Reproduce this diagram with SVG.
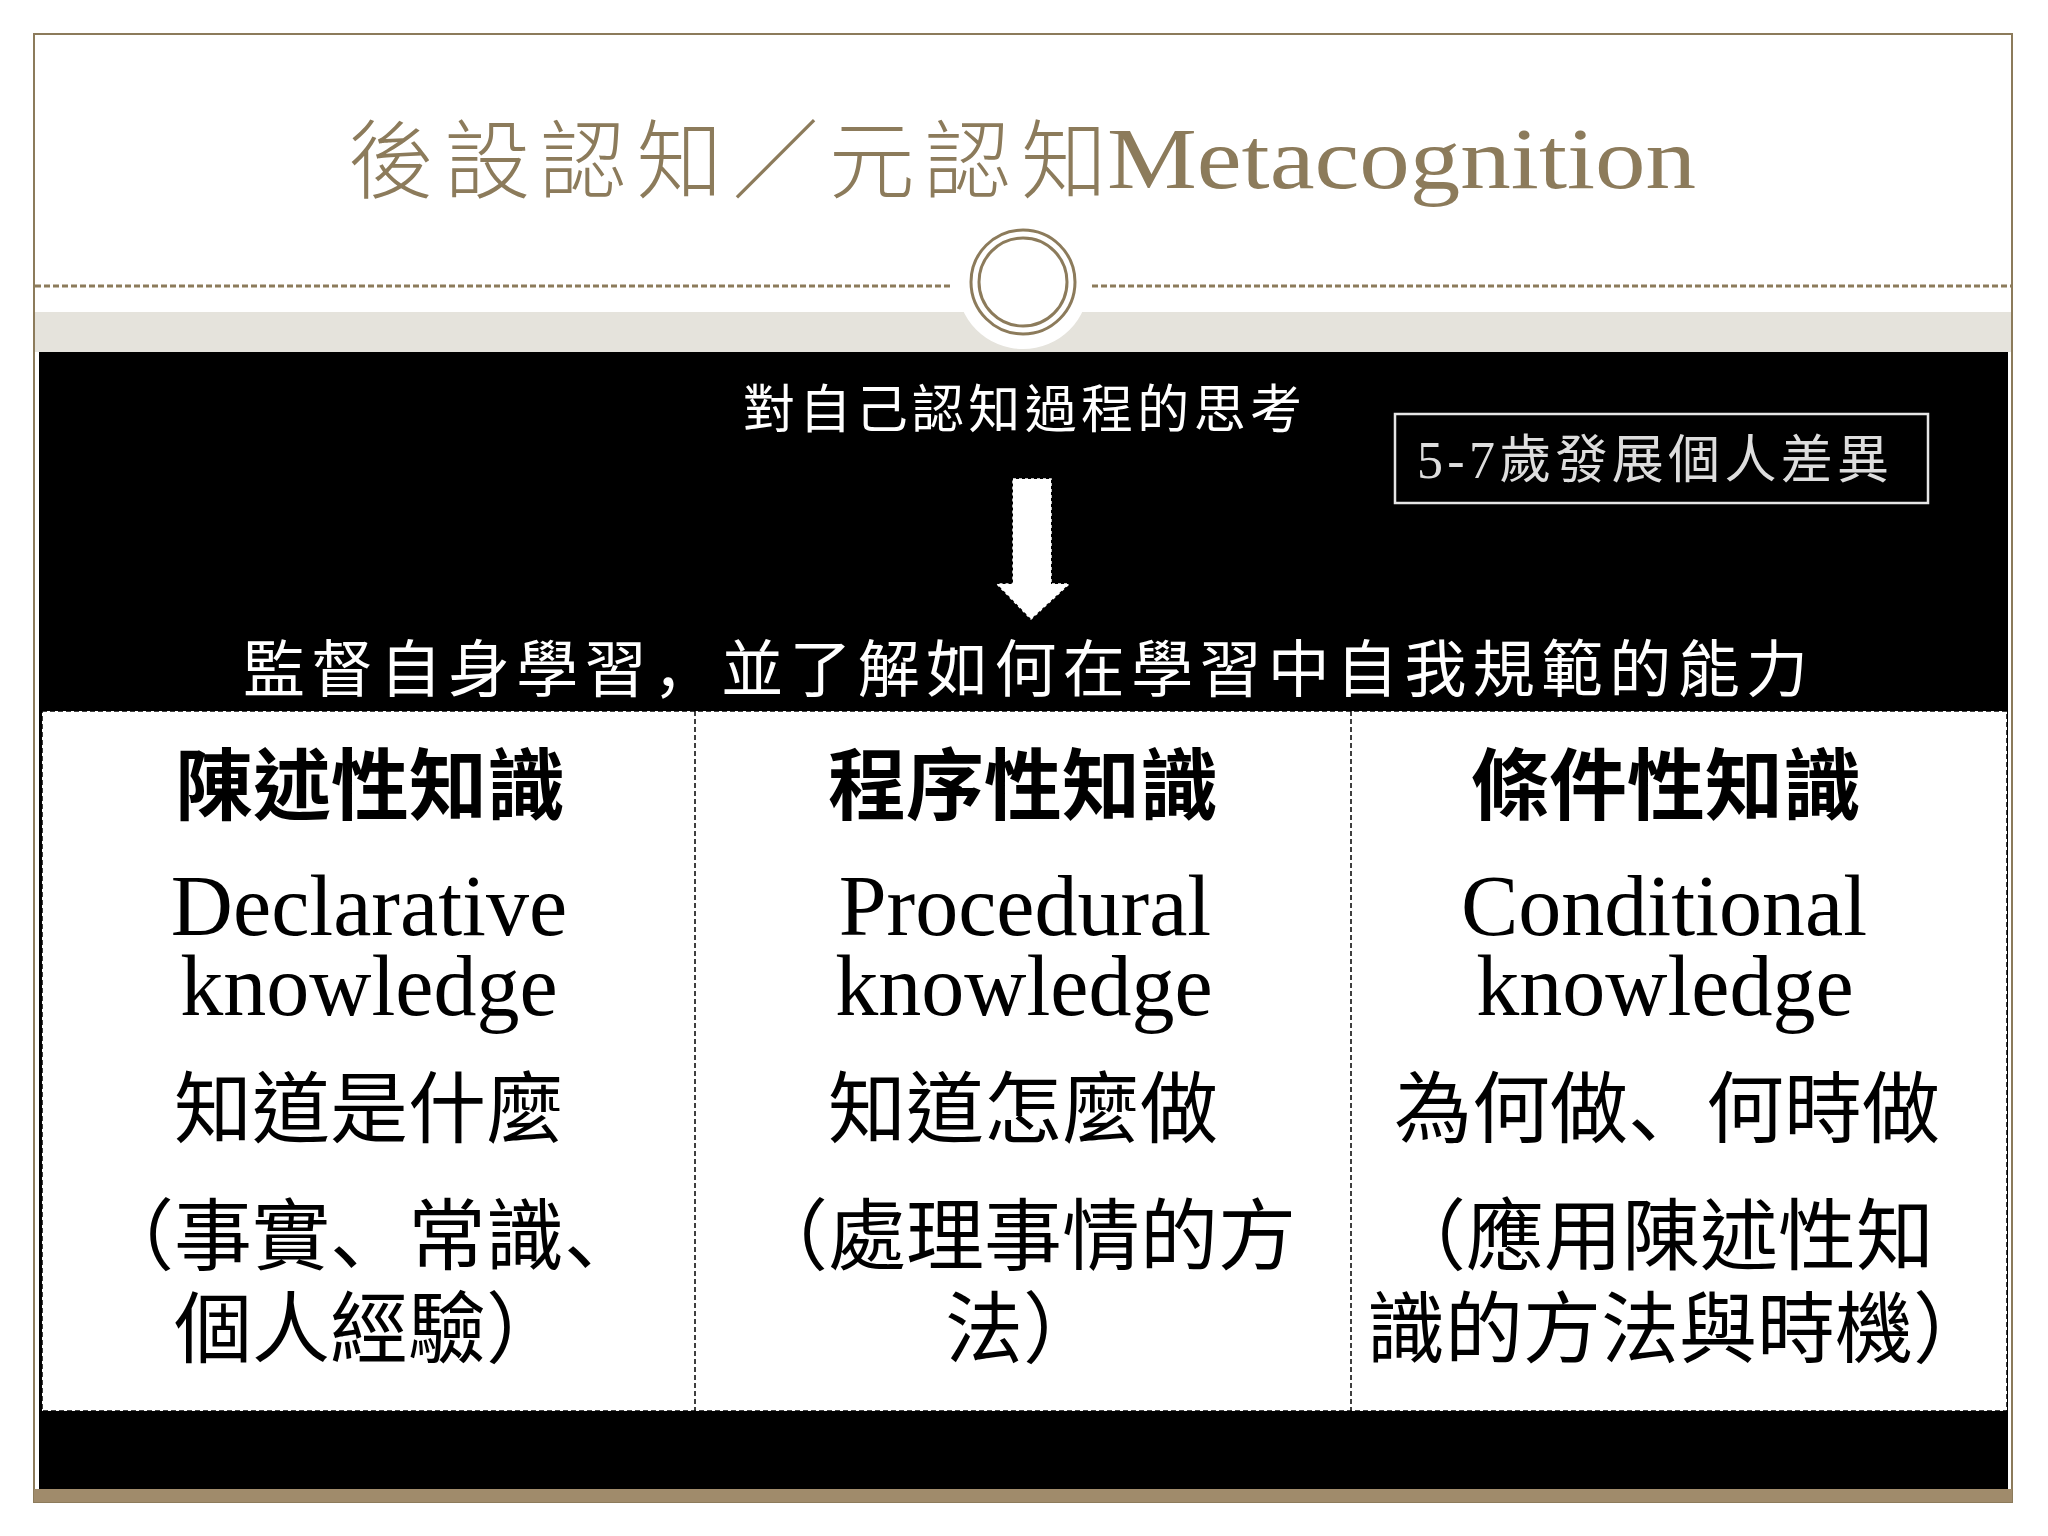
<svg xmlns="http://www.w3.org/2000/svg" width="2048" height="1536" viewBox="0 0 2048 1536">
  <defs>
    <style>
      .tan { fill: #8C7B5B; }
      .cjk { font-family: "Noto Sans CJK TC", "Noto Sans CJK SC", sans-serif; }
      .serif { font-family: "Liberation Serif", "Noto Sans CJK TC", serif; }
      .head { font-family: "Noto Sans CJK TC", sans-serif; font-weight: bold; font-size: 78px; fill: #000; text-anchor: middle; }
      .body { font-family: "Noto Sans CJK TC", sans-serif; font-size: 78px; fill: #000; text-anchor: middle; }
      .latin { font-family: "Liberation Serif", serif; font-size: 86px; fill: #000; text-anchor: middle; }
      .punct { font-family: "Noto Sans CJK SC", sans-serif; }
      .cellline { stroke: #000; stroke-width: 1.5; stroke-dasharray: 5 3; fill: none; }
    </style>
  </defs>

  <rect x="0" y="0" width="2048" height="1536" fill="#FFFFFF"/>

  <!-- frame -->
  <g id="frame">
    <rect x="34" y="34" width="1978" height="1468" fill="#FFFFFF" stroke="#8C7B5B" stroke-width="2"/>
    <rect x="35" y="312" width="1976" height="40" fill="#E5E3DC"/>
    <circle cx="1023" cy="283" r="66" fill="#FFFFFF"/>
    <line x1="35" y1="286" x2="953" y2="286" stroke="#8C7B5B" stroke-width="3" stroke-dasharray="6 3"/>
    <line x1="1092" y1="286" x2="2011" y2="286" stroke="#8C7B5B" stroke-width="3" stroke-dasharray="6 3"/>
    <circle cx="1023" cy="282" r="52" fill="none" stroke="#8C7B5B" stroke-width="3"/>
    <circle cx="1023" cy="282" r="44" fill="none" stroke="#8C7B5B" stroke-width="3"/>
    <rect x="39" y="352" width="1969" height="1137" fill="#000000"/>
    <rect x="34" y="1489" width="1978" height="13" fill="#A08B6B"/>
  </g>

  <!-- title -->
  <g id="title">
    <text x="348" y="192" class="cjk tan" font-size="86" font-weight="300" textLength="759" lengthAdjust="spacing">後設認知／元認知</text>
    <text x="1107" y="188" class="tan" font-family="Liberation Serif, serif" font-size="86" textLength="589" lengthAdjust="spacingAndGlyphs">Metacognition</text>
  </g>

  <!-- top statement -->
  <g id="node-thinking">
    <text x="743" y="428" class="cjk" font-size="52" fill="#FFFFFF" textLength="559" lengthAdjust="spacing">對自己認知過程的思考</text>
  </g>

  <g id="node-age">
    <rect x="1395" y="414" width="533" height="89" fill="none" stroke="#E6E6E6" stroke-width="2.5"/>
    <text x="1417" y="478" class="serif" font-size="52" fill="#DDDDDD" textLength="472" lengthAdjust="spacing">5-7歲發展個人差異</text>
  </g>

  <g id="node-ability">
    <text x="243" y="692" class="cjk" font-size="62" fill="#FFFFFF" textLength="1565" lengthAdjust="spacing">監督自身學習<tspan class="punct">，</tspan>並了解如何在學習中自我規範的能力</text>
  </g>

  <!-- connectors -->
  <g id="connectors">
    <path d="M1013,479 L1051,479 L1051,584 L1069,584 L1031,619 L997,584 L1013,584 Z" fill="#FFFFFF" stroke="#FFFFFF" stroke-width="1.5" stroke-dasharray="3 3"/>
  </g>

  <!-- table -->
  <g id="table">
    <rect x="42" y="711" width="1965" height="700" fill="#FFFFFF"/>
    <rect x="42" y="711" width="1965" height="700" class="cellline"/>
    <line x1="695" y1="711" x2="695" y2="1411" class="cellline"/>
    <line x1="1351" y1="711" x2="1351" y2="1411" class="cellline"/>
  </g>

  <g id="node-declarative">
    <text x="370" y="814" class="head">陳述性知識</text>
    <text class="latin"><tspan x="369" y="935">Declarative</tspan><tspan x="369" y="1015">knowledge</tspan></text>
    <text x="369" y="1137" class="body">知道是什麼</text>
    <text class="body"><tspan x="369" y="1264">（事實<tspan class="punct">、</tspan>常識<tspan class="punct">、</tspan></tspan><tspan x="369" y="1357">個人經驗）</tspan></text>
  </g>

  <g id="node-procedural">
    <text x="1023" y="814" class="head">程序性知識</text>
    <text class="latin"><tspan x="1025" y="935">Procedural</tspan><tspan x="1024" y="1015">knowledge</tspan></text>
    <text x="1023" y="1137" class="body">知道怎麼做</text>
    <text class="body"><tspan x="1023" y="1264">（處理事情的方</tspan><tspan x="1023" y="1357">法）</tspan></text>
  </g>

  <g id="node-conditional">
    <text x="1666" y="814" class="head">條件性知識</text>
    <text class="latin"><tspan x="1664" y="935">Conditional</tspan><tspan x="1665" y="1015">knowledge</tspan></text>
    <text x="1667" y="1137" class="body">為何做<tspan class="punct">、</tspan>何時做</text>
    <text class="body"><tspan x="1661" y="1264">（應用陳述性知</tspan><tspan x="1679" y="1357">識的方法與時機）</tspan></text>
  </g>
</svg>
